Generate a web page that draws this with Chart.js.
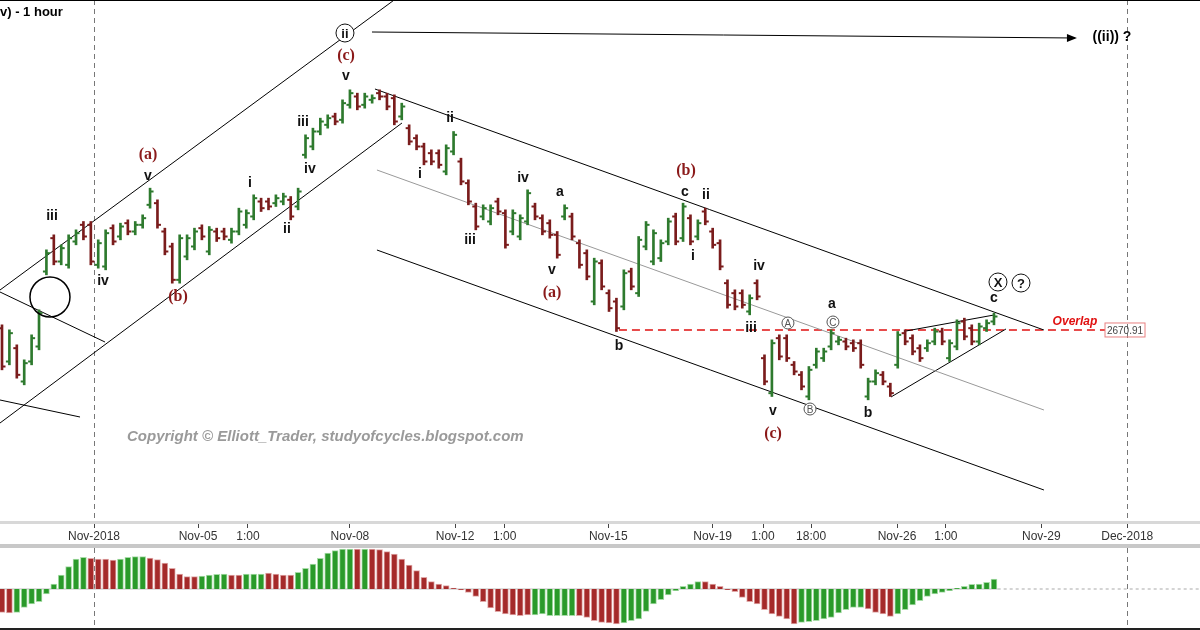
<!DOCTYPE html>
<html>
<head>
<meta charset="utf-8">
<script src="https://cdn.jsdelivr.net/npm/chart.js@4/dist/chart.umd.min.js"></script>
<style>
  body { margin: 0; background: #fff; width: 1200px; height: 630px; overflow: hidden; font-family: "Liberation Sans", Arial, sans-serif; }
  #main { position: absolute; left: 0; top: 0; }
  #osc { position: absolute; left: 0; top: 548px; }
  .sep { position: absolute; left: 0; width: 1200px; }
  .txt { position: absolute; white-space: nowrap; }
</style>
</head>
<body>
<canvas id="main" width="1200" height="548"></canvas>
<canvas id="osc" width="1200" height="82"></canvas>
<div class="sep" style="top:0;height:1px;background:#000"></div>
<div class="sep" style="top:544px;height:4px;background:#c8c8c8"></div>
<div class="sep" style="top:628px;height:2px;background:#222"></div>
<div class="txt" style="left:0;top:4px;font:bold 13px 'Liberation Sans',Arial">v) - 1 hour</div>
<div class="txt" style="left:127px;top:427px;font:italic bold 15px 'Liberation Sans',Arial;color:#9a9a9a">Copyright © Elliott_Trader, studyofcycles.blogspot.com</div>
<script>
// S&P 500 hourly bars, Nov 2018
const highs = [2674,2671,2662,2653,2668,2683,2719,2728,2722,2728,2731,2736,2736,2725,2731,2734,2735,2737,2736,2740,
  2756,2749,2732,2723,2728,2728,2732,2734,2733,2732,2732,2732,2744,2743,2752,2750,2750,2752,2753,2751,
  2756,2788,2792,2798,2800,2801,2809,2815,2813,2813,2812,2815,2813,2812,2807,2794,2788,2783,2779,2779,
  2782,2790,2774,2761,2747,2746,2746,2750,2743,2743,2740,2755,2747,2740,2737,2730,2746,2741,2725,2719,
  2714,2713,2695,2690,2707,2708,2727,2736,2731,2725,2738,2741,2747,2740,2737,2744,2732,2725,2701,2695,
  2695,2692,2701,2656,2665,2668,2668,2652,2646,2649,2660,2660,2671,2667,2666,2665,2665,2642,2647,2646,
  2639,2670,2671,2668,2662,2665,2672,2672,2665,2677,2678,2674,2675,2677,2681]
const lows = [2647,2650,2642,2638,2650,2659,2704,2710,2710,2708,2722,2725,2710,2708,2707,2722,2725,2728,2728,2732,
  2744,2732,2716,2699,2699,2713,2719,2725,2716,2724,2725,2723,2728,2732,2737,2742,2743,2745,2746,2737,
  2743,2774,2779,2788,2792,2794,2795,2804,2803,2804,2807,2809,2803,2794,2797,2782,2779,2770,2770,2768,
  2764,2776,2758,2746,2731,2737,2734,2740,2720,2728,2725,2734,2737,2728,2726,2714,2737,2725,2708,2701,
  2686,2695,2682,2670,2683,2695,2691,2719,2710,2712,2722,2722,2724,2722,2725,2734,2720,2707,2684,2683,
  2684,2680,2689,2638,2631,2653,2652,2644,2635,2629,2648,2652,2659,2662,2659,2658,2648,2629,2638,2638,
  2631,2648,2662,2656,2652,2658,2662,2662,2652,2659,2665,2662,2662,2670,2674]
const opens = [2672,2652,2660,2640,2652,2661,2706,2726,2712,2710,2724,2734,2734,2710,2709,2732,2727,2735,2730,2734,
  2746,2747,2730,2721,2701,2715,2721,2732,2718,2730,2730,2725,2730,2734,2739,2748,2748,2747,2748,2749,
  2745,2776,2781,2790,2794,2799,2797,2806,2811,2806,2809,2813,2811,2810,2799,2792,2786,2781,2777,2777,
  2766,2778,2772,2759,2745,2739,2736,2748,2741,2730,2727,2736,2745,2738,2735,2728,2739,2739,2723,2717,
  2688,2711,2693,2688,2685,2706,2693,2721,2712,2714,2724,2739,2726,2738,2727,2742,2730,2723,2699,2693,
  2693,2682,2699,2654,2633,2666,2666,2650,2644,2631,2650,2654,2661,2664,2664,2663,2663,2631,2640,2644,
  2637,2650,2669,2666,2660,2660,2664,2670,2654,2661,2676,2672,2664,2672,2676]
const closes = [2649,2669,2644,2651,2666,2681,2717,2712,2720,2726,2729,2727,2712,2723,2729,2724,2733,2730,2734,2738,
  2754,2734,2718,2701,2726,2726,2730,2727,2731,2726,2727,2730,2742,2741,2750,2744,2745,2750,2751,2739,
  2754,2786,2790,2796,2798,2796,2807,2813,2805,2811,2810,2811,2805,2796,2805,2784,2781,2772,2772,2770,
  2780,2788,2760,2748,2733,2744,2744,2742,2722,2741,2738,2753,2739,2730,2728,2716,2744,2727,2710,2703,
  2712,2697,2684,2672,2705,2697,2725,2734,2729,2723,2736,2724,2745,2724,2735,2736,2722,2709,2686,2685,
  2686,2690,2691,2640,2663,2655,2654,2646,2637,2647,2658,2658,2669,2665,2661,2660,2650,2640,2645,2640,
  2633,2668,2664,2658,2654,2663,2670,2664,2663,2675,2667,2664,2673,2675,2679]

// oscillator histogram, G = rising (green), R = falling (red)
const oscValues = [-70,-72,-70,-55,-45,-38,-15,15,42,67,90,95,92,90,90,87,90,95,97,97,
  93,88,78,62,45,37,37,39,42,44,45,42,42,45,45,45,48,45,42,42,
  50,62,75,92,108,115,120,120,120,120,120,118,112,105,90,72,55,35,22,15,
  10,3,-3,-10,-22,-38,-57,-68,-75,-78,-80,-78,-78,-75,-80,-80,-80,-80,-80,-85,
  -95,-100,-102,-105,-102,-95,-90,-67,-45,-32,-18,-5,8,15,22,22,15,8,-2,-8,
  -25,-38,-45,-62,-75,-82,-90,-105,-100,-98,-95,-90,-85,-72,-62,-55,-55,-60,-70,-75,
  -82,-75,-62,-48,-35,-22,-15,-10,-5,2,8,14,15,20,30]
const oscDir = 'RRGGGGGGGGGGRRRRGGGG' + 'RRRRRRRGGGGRRGGGRRRR' + 'GGGGGGGGRGRRRRRRRRRR' + 'RRRRRRRRRRRRGGGGGGRR' +
  'RRRRGGGGGGGGGGGRRRRR' + 'RRRRRRRRGGGGGGGGGRRR' + 'RGGGGGGGGGGGGGG'

const tickLabels = ['Nov-2018','Nov-05','1:00','Nov-08','Nov-12','1:00','Nov-15','Nov-19','1:00','18:00','Nov-26','1:00','Nov-29','Dec-2018']
const tickIndex = [12.43,26.48,33.23,47.0,61.2,67.9,81.9,96.0,102.8,109.3,120.9,127.5,140.4,152.0]
const monthLines = [12.43, 152.0]

const overlapLevel = 2670.91

var GREEN = '#2e7a2e'
var RED = '#7a1c1c'
var X_MIN = -0.27, X_MAX = 161.83

var barData = [], openPts = [], closePts = [], barColors = []
for (var i = 0; i < highs.length; i++) {
    var up = closes[i] >= opens[i]
    barColors.push(up ? GREEN : RED)
    barData.push({x: i, y: [lows[i], highs[i]]})
    openPts.push({x: i, y: opens[i]})
    closePts.push({x: i, y: closes[i]})
}

function seg(p, color, width, dash) {
    return {type: 'line', data: p, borderColor: color, borderWidth: width || 1, borderDash: dash || [],
        pointRadius: 0, fill: false, tension: 0, order: 5}
}

// wave labels: [text, index, price, kind]
const waveLabels = [
  ['iii',6.75,2739.3,'b'],['iv',13.64,2700.3,'b'],['(a)',19.72,2775.9,'r'],['v',19.72,2763.3,'b'],
  ['(b)',23.77,2690.7,'r'],['i',33.5,2759.1,'b'],['ii',38.5,2731.5,'b'],['iii',40.66,2795.7,'b'],
  ['iv',41.6,2767.5,'b'],['v',46.47,2823.3,'b'],['(c)',46.47,2835.3,'r'],['ii',46.33,2849.1,'c'],
  ['ii',60.52,2798.1,'b'],['i',56.46,2764.5,'b'],['iii',63.22,2724.9,'b'],['iv',70.38,2762.1,'b'],
  ['a',75.37,2753.7,'b'],['v',74.29,2706.9,'b'],['(a)',74.29,2693.1,'r'],['b',83.34,2661.3,'b'],
  ['(b)',92.39,2766.3,'r'],['c',92.26,2753.7,'b'],['ii',95.1,2751.9,'b'],['i',93.34,2715.3,'b'],
  ['iv',102.26,2709.3,'b'],['iii',101.18,2672.1,'b'],['A',106.17,2675.1,'g'],['a',112.12,2686.5,'b'],
  ['C',112.25,2675.7,'g'],['v',104.15,2622.3,'b'],['(c)',104.15,2608.5,'r'],['B',109.15,2623.5,'g'],
  ['b',116.98,2621.1,'b'],['c',134.0,2690.1,'b'],['X',134.54,2699.7,'c'],['?',137.65,2699.1,'c']
]

var annotations = {
    id: 'annotations',
    afterDatasetsDraw(chart) {
        var ctx = chart.ctx, xs = chart.scales.x, ys = chart.scales.y
        ctx.save()
        ctx.textAlign = 'center'
        ctx.textBaseline = 'middle'
        for (let l of waveLabels) {
            var px = xs.getPixelForValue(l[1]), py = ys.getPixelForValue(l[2])
            if (l[3] == 'r') {
                ctx.font = 'bold 16px "Liberation Serif", serif'
                ctx.fillStyle = '#8b1a1a'
                ctx.fillText(l[0], px, py)
            } else if (l[3] == 'c' || l[3] == 'g') {
                var r = l[3] == 'c' ? 9 : 6
                ctx.beginPath()
                ctx.arc(px, py, r, 0, Math.PI * 2)
                ctx.fillStyle = '#fff'
                ctx.fill()
                ctx.strokeStyle = l[3] == 'c' ? '#111' : '#555'
                ctx.lineWidth = 1
                ctx.stroke()
                ctx.font = (l[3] == 'c' ? 'bold 13px' : '10px') + ' "Liberation Sans", Arial'
                ctx.fillStyle = l[3] == 'c' ? '#111' : '#555'
                ctx.fillText(l[0], px, py + 1)
            } else {
                ctx.font = 'bold 14px "Liberation Sans", Arial'
                ctx.fillStyle = '#111'
                ctx.fillText(l[0], px, py)
            }
        }
        // big circle on the left
        ctx.beginPath()
        ctx.arc(xs.getPixelForValue(6.48), ys.getPixelForValue(2690.7), 20, 0, Math.PI * 2)
        ctx.strokeStyle = '#000'
        ctx.lineWidth = 1.5
        ctx.stroke()
        // arrow head and ((ii)) ?
        var ax = xs.getPixelForValue(144.94), ay = ys.getPixelForValue(2846.1)
        ctx.beginPath()
        ctx.moveTo(ax + 2, ay)
        ctx.lineTo(ax - 8, ay - 4)
        ctx.lineTo(ax - 8, ay + 4)
        ctx.closePath()
        ctx.fillStyle = '#000'
        ctx.fill()
        ctx.font = 'bold 14px "Liberation Sans", Arial'
        ctx.fillText('((ii)) ?', xs.getPixelForValue(149.94), ys.getPixelForValue(2846.7))
        // overlap label and price box
        ctx.font = 'italic bold 12px "Liberation Sans", Arial'
        ctx.fillStyle = '#e01010'
        ctx.fillText('Overlap', xs.getPixelForValue(144.94), ys.getPixelForValue(2675.7))
        var bx = xs.getPixelForValue(151.7), by = ys.getPixelForValue(overlapLevel)
        ctx.strokeStyle = '#e88080'
        ctx.lineWidth = 1
        ctx.strokeRect(bx - 20, by - 7, 40, 14)
        ctx.fillStyle = '#444'
        ctx.font = '10px "Liberation Sans", Arial'
        ctx.fillText(overlapLevel.toFixed(2), bx, by + 1)
        ctx.restore()
    }
}

var vlines = {
    id: 'vlines',
    beforeDatasetsDraw(chart) {
        var ctx = chart.ctx, a = chart.chartArea
        ctx.save()
        ctx.strokeStyle = '#777'
        ctx.setLineDash([5, 4])
        ctx.lineWidth = 1
        for (let v of monthLines) {
            var px = Math.round(chart.scales.x.getPixelForValue(v)) + 0.5
            ctx.beginPath()
            ctx.moveTo(px, a.top)
            ctx.lineTo(px, a.bottom)
            ctx.stroke()
        }
        ctx.restore()
    }
}

new Chart(document.getElementById('main'), {
    type: 'bar',
    data: {
        datasets: [
            {type: 'bar', data: barData, backgroundColor: barColors, barThickness: 2, order: 1},
            {type: 'line', data: openPts, showLine: false, pointStyle: 'dash', rotation: 180, pointRadius: 3.5,
                pointBorderWidth: 2, pointBorderColor: barColors, order: 1},
            {type: 'line', data: closePts, showLine: false, pointStyle: 'dash', rotation: 0, pointRadius: 3.5,
                pointBorderWidth: 2, pointBorderColor: barColors, order: 1},
            seg([{x: -0.27, y: 2694.9}, {x: 60.5, y: 2893.5}], '#000'),
            seg([{x: -0.27, y: 2615.1}, {x: 54.03, y: 2795.1}], '#000'),
            seg([{x: -0.27, y: 2693.7}, {x: 13.91, y: 2663.7}], '#000'),
            seg([{x: -0.27, y: 2628.9}, {x: 10.54, y: 2618.7}], '#000'),
            seg([{x: 50.38, y: 2815.5}, {x: 140.75, y: 2670.9}], '#000'),
            seg([{x: 50.65, y: 2766.9}, {x: 140.75, y: 2622.9}], '#999'),
            seg([{x: 50.65, y: 2718.9}, {x: 140.75, y: 2574.9}], '#000'),
            seg([{x: 122.11, y: 2670.3}, {x: 134.0, y: 2679.9}], '#000'),
            seg([{x: 120.09, y: 2630.7}, {x: 135.62, y: 2671.5}], '#000'),
            seg([{x: 83.34, y: overlapLevel}, {x: 149.0, y: overlapLevel}], '#e01010', 1.3, [8, 5]),
            seg([{x: 49.98, y: 2849.7}, {x: 144.94, y: 2846.1}], '#000')
        ]
    },
    options: {
        responsive: false,
        devicePixelRatio: 1,
        animation: false,
        layout: {padding: 0, autoPadding: false},
        plugins: {legend: {display: false}, tooltip: {enabled: false}},
        scales: {
            x: {
                type: 'linear', min: X_MIN, max: X_MAX, offset: false,
                afterBuildTicks: (s) => { s.ticks = tickIndex.map(v => ({value: v})) },
                afterFit: (s) => { s.height = 26; s.paddingLeft = 0; s.paddingRight = 0 },
                ticks: {
                    autoSkip: false, maxRotation: 0, padding: 1, color: '#333',
                    font: {size: 12, family: '"Liberation Sans", Arial'},
                    callback: (v, i) => tickLabels[i]
                },
                grid: {drawOnChartArea: false, tickLength: 6, tickColor: '#444', offset: false},
                border: {color: '#d8d8d8', width: 3}
            },
            y: {display: false, min: 2555.7, max: 2868.9}
        }
    },
    plugins: [vlines, annotations]
})

var oscColors = [], oscBorders = [], oscData = []
for (var i = 0; i < oscValues.length; i++) {
    var g = oscDir[i] == 'G'
    oscColors.push(g ? '#2a9a2a' : '#a52a2a')
    oscBorders.push(g ? '#a8dca8' : '#e0a8a8')
    oscData.push({x: i, y: oscValues[i]})
}

new Chart(document.getElementById('osc'), {
    type: 'bar',
    data: {
        datasets: [
            {type: 'bar', data: oscData, backgroundColor: oscColors, borderColor: oscBorders, borderWidth: 1,
                barThickness: 6, order: 1},
            seg([{x: -0.27, y: 0}, {x: 134.5, y: 0}], '#bbb'),
            seg([{x: 134.5, y: 0}, {x: X_MAX, y: 0}], '#aaa', 1, [3, 3])
        ]
    },
    options: {
        responsive: false,
        devicePixelRatio: 1,
        animation: false,
        layout: {padding: 0},
        plugins: {legend: {display: false}, tooltip: {enabled: false}},
        scales: {
            x: {type: 'linear', display: false, min: X_MIN, max: X_MAX, offset: false},
            y: {display: false, min: -123, max: 123}
        }
    },
    plugins: [vlines]
})
</script>
</body>
</html>
